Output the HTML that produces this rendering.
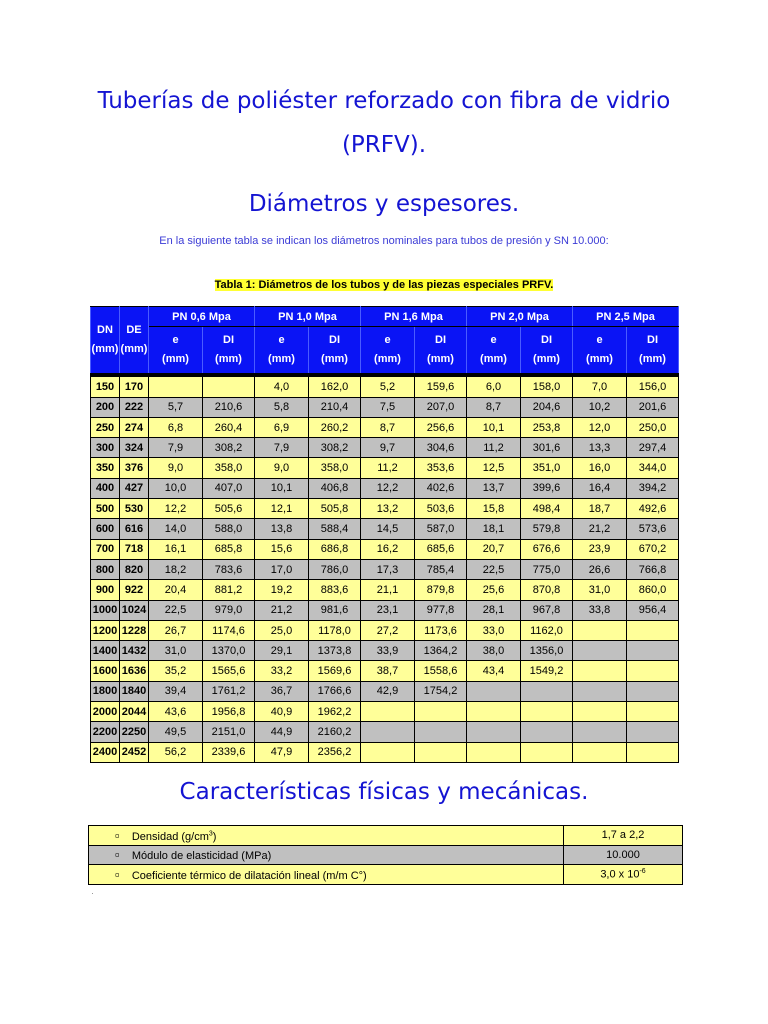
<!DOCTYPE html>
<html><head><meta charset="utf-8"><style>
body{margin:0;width:768px;height:1024px;background:#fff;position:relative;font-family:"Liberation Sans",sans-serif;}
.h{position:absolute;left:0;width:768px;text-align:center;color:#1414d2;font-family:"DejaVu Sans","Liberation Sans",sans-serif;font-size:23px;}
table{border-collapse:collapse;position:absolute;table-layout:fixed;}
#t td{border:1px solid #000;font-size:11px;text-align:center;height:19.3px;padding:0;}
#t .hd td{background:#0a14f5;color:#fff;font-weight:bold;border-color:#000 #4a5cff;}
#t td.k{font-weight:bold;font-size:11px;}
.y td{background:#ffff99}.g td{background:#c0c0c0}
#b td{border:1px solid #000;font-size:11px;height:18.5px;padding:0;}
</style></head><body>
<div class="h" style="top:88px">Tuberías de poliéster reforzado con fibra de vidrio</div>
<div class="h" style="top:132px">(PRFV).</div>
<div class="h" style="top:191px">Diámetros y espesores.</div>
<div style="position:absolute;top:235px;left:0;width:768px;text-align:center;font-size:11px;color:#3b3bd6">En la siguiente tabla se indican los diámetros nominales para tubos de presión y SN 10.000:</div>
<div style="position:absolute;top:279px;left:0;width:768px;text-align:center;font-size:11px;font-weight:bold"><span style="background:#ffff33">Tabla 1: Diámetros de los tubos y de las piezas especiales PRFV.</span></div>
<table id="t" style="left:90px;top:306px;width:588px">
<colgroup><col style="width:29px"><col style="width:29px"><col style="width:54px"><col style="width:52px"><col style="width:54px"><col style="width:52px"><col style="width:54px"><col style="width:52px"><col style="width:54px"><col style="width:52px"><col style="width:54px"><col style="width:52px"></colgroup>
<tr class="hd"><td rowspan="2" style="line-height:19px">DN<br>(mm)</td><td rowspan="2" style="line-height:19px">DE<br>(mm)</td><td colspan="2" style="height:17px">PN 0,6 Mpa</td><td colspan="2">PN 1,0 Mpa</td><td colspan="2">PN 1,6 Mpa</td><td colspan="2">PN 2,0 Mpa</td><td colspan="2">PN 2,5 Mpa</td></tr>
<tr class="hd" style="border-bottom:4px solid #000"><td style="height:46px;line-height:19px">e<br>(mm)</td><td style="line-height:19px">DI<br>(mm)</td><td style="line-height:19px">e<br>(mm)</td><td style="line-height:19px">DI<br>(mm)</td><td style="line-height:19px">e<br>(mm)</td><td style="line-height:19px">DI<br>(mm)</td><td style="line-height:19px">e<br>(mm)</td><td style="line-height:19px">DI<br>(mm)</td><td style="line-height:19px">e<br>(mm)</td><td style="line-height:19px">DI<br>(mm)</td></tr>
<tr class="y"><td class="k">150</td><td class="k">170</td><td></td><td></td><td>4,0</td><td>162,0</td><td>5,2</td><td>159,6</td><td>6,0</td><td>158,0</td><td>7,0</td><td>156,0</td></tr>
<tr class="g"><td class="k">200</td><td class="k">222</td><td>5,7</td><td>210,6</td><td>5,8</td><td>210,4</td><td>7,5</td><td>207,0</td><td>8,7</td><td>204,6</td><td>10,2</td><td>201,6</td></tr>
<tr class="y"><td class="k">250</td><td class="k">274</td><td>6,8</td><td>260,4</td><td>6,9</td><td>260,2</td><td>8,7</td><td>256,6</td><td>10,1</td><td>253,8</td><td>12,0</td><td>250,0</td></tr>
<tr class="g"><td class="k">300</td><td class="k">324</td><td>7,9</td><td>308,2</td><td>7,9</td><td>308,2</td><td>9,7</td><td>304,6</td><td>11,2</td><td>301,6</td><td>13,3</td><td>297,4</td></tr>
<tr class="y"><td class="k">350</td><td class="k">376</td><td>9,0</td><td>358,0</td><td>9,0</td><td>358,0</td><td>11,2</td><td>353,6</td><td>12,5</td><td>351,0</td><td>16,0</td><td>344,0</td></tr>
<tr class="g"><td class="k">400</td><td class="k">427</td><td>10,0</td><td>407,0</td><td>10,1</td><td>406,8</td><td>12,2</td><td>402,6</td><td>13,7</td><td>399,6</td><td>16,4</td><td>394,2</td></tr>
<tr class="y"><td class="k">500</td><td class="k">530</td><td>12,2</td><td>505,6</td><td>12,1</td><td>505,8</td><td>13,2</td><td>503,6</td><td>15,8</td><td>498,4</td><td>18,7</td><td>492,6</td></tr>
<tr class="g"><td class="k">600</td><td class="k">616</td><td>14,0</td><td>588,0</td><td>13,8</td><td>588,4</td><td>14,5</td><td>587,0</td><td>18,1</td><td>579,8</td><td>21,2</td><td>573,6</td></tr>
<tr class="y"><td class="k">700</td><td class="k">718</td><td>16,1</td><td>685,8</td><td>15,6</td><td>686,8</td><td>16,2</td><td>685,6</td><td>20,7</td><td>676,6</td><td>23,9</td><td>670,2</td></tr>
<tr class="g"><td class="k">800</td><td class="k">820</td><td>18,2</td><td>783,6</td><td>17,0</td><td>786,0</td><td>17,3</td><td>785,4</td><td>22,5</td><td>775,0</td><td>26,6</td><td>766,8</td></tr>
<tr class="y"><td class="k">900</td><td class="k">922</td><td>20,4</td><td>881,2</td><td>19,2</td><td>883,6</td><td>21,1</td><td>879,8</td><td>25,6</td><td>870,8</td><td>31,0</td><td>860,0</td></tr>
<tr class="g"><td class="k">1000</td><td class="k">1024</td><td>22,5</td><td>979,0</td><td>21,2</td><td>981,6</td><td>23,1</td><td>977,8</td><td>28,1</td><td>967,8</td><td>33,8</td><td>956,4</td></tr>
<tr class="y"><td class="k">1200</td><td class="k">1228</td><td>26,7</td><td>1174,6</td><td>25,0</td><td>1178,0</td><td>27,2</td><td>1173,6</td><td>33,0</td><td>1162,0</td><td></td><td></td></tr>
<tr class="g"><td class="k">1400</td><td class="k">1432</td><td>31,0</td><td>1370,0</td><td>29,1</td><td>1373,8</td><td>33,9</td><td>1364,2</td><td>38,0</td><td>1356,0</td><td></td><td></td></tr>
<tr class="y"><td class="k">1600</td><td class="k">1636</td><td>35,2</td><td>1565,6</td><td>33,2</td><td>1569,6</td><td>38,7</td><td>1558,6</td><td>43,4</td><td>1549,2</td><td></td><td></td></tr>
<tr class="g"><td class="k">1800</td><td class="k">1840</td><td>39,4</td><td>1761,2</td><td>36,7</td><td>1766,6</td><td>42,9</td><td>1754,2</td><td></td><td></td><td></td><td></td></tr>
<tr class="y"><td class="k">2000</td><td class="k">2044</td><td>43,6</td><td>1956,8</td><td>40,9</td><td>1962,2</td><td></td><td></td><td></td><td></td><td></td><td></td></tr>
<tr class="g"><td class="k">2200</td><td class="k">2250</td><td>49,5</td><td>2151,0</td><td>44,9</td><td>2160,2</td><td></td><td></td><td></td><td></td><td></td><td></td></tr>
<tr class="y"><td class="k">2400</td><td class="k">2452</td><td>56,2</td><td>2339,6</td><td>47,9</td><td>2356,2</td><td></td><td></td><td></td><td></td><td></td><td></td></tr>
</table>
<div class="h" style="top:779px">Características físicas y mecánicas.</div>
<table id="b" style="left:88px;top:825px;width:594px">
<colgroup><col style="width:475px"><col style="width:119px"></colgroup>
<tr class="y"><td style="padding-left:26px"><span style="font-size:13px">▫</span>&nbsp;&nbsp;&nbsp;&nbsp;Densidad (g/cm<sup style="font-size:7px">3</sup>)</td><td style="text-align:center">1,7 a 2,2</td></tr>
<tr class="g"><td style="padding-left:26px"><span style="font-size:13px">▫</span>&nbsp;&nbsp;&nbsp;&nbsp;Módulo de elasticidad (MPa)</td><td style="text-align:center">10.000</td></tr>
<tr class="y"><td style="padding-left:26px"><span style="font-size:13px">▫</span>&nbsp;&nbsp;&nbsp;&nbsp;Coeficiente térmico de dilatación lineal (m/m C°)</td><td style="text-align:center">3,0 x 10<sup style="font-size:7px">-6</sup></td></tr>
</table>
<div style="position:absolute;left:92px;top:893px;width:1px;height:1px;background:#999"></div>
</body></html>
